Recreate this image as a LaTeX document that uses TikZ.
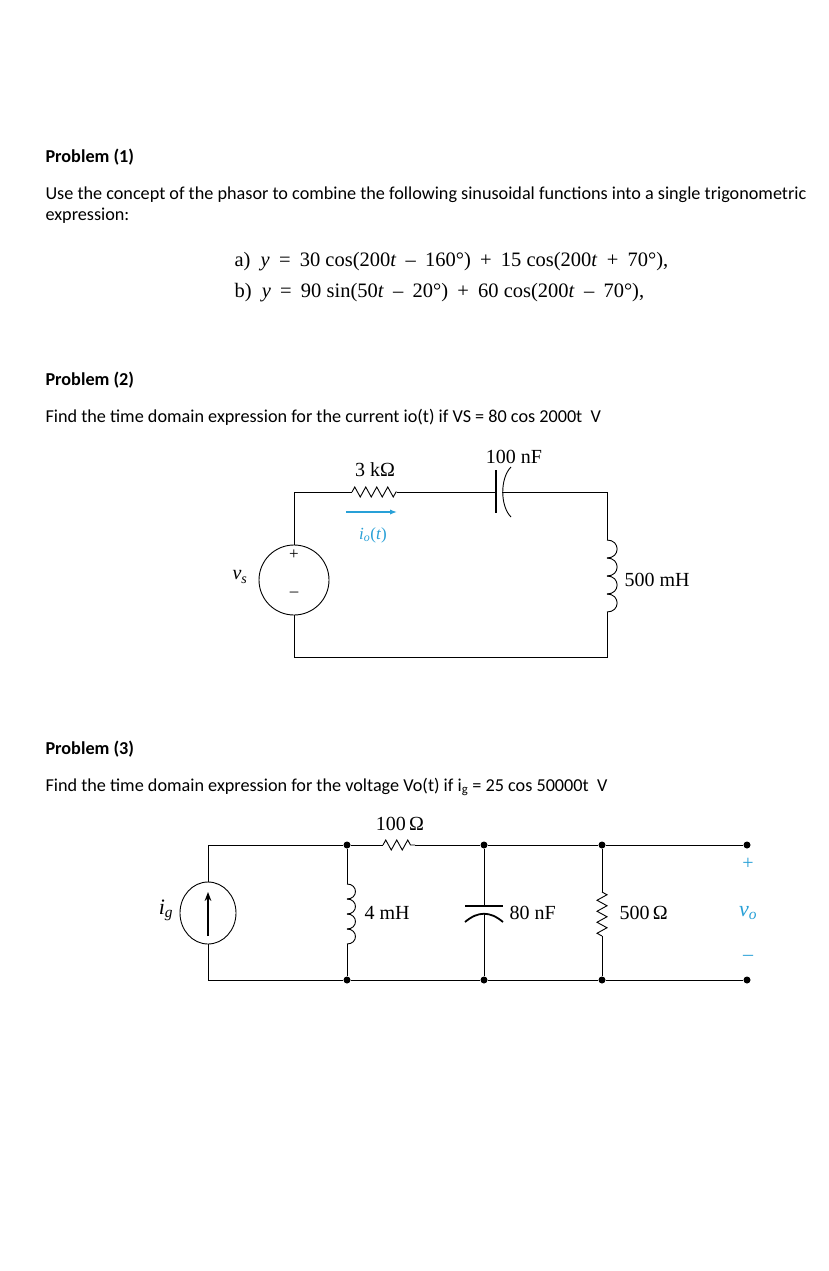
\documentclass[tikz,border=0pt]{standalone}
\usepackage{fontspec}
\setmainfont{Carlito}
\newfontfamily\tms{Liberation Serif}
\usetikzlibrary{decorations.pathmorphing,arrows.meta,shapes.geometric}
\definecolor{cblue}{RGB}{40,160,215}
\newcommand{\hump}[4]{% x, y-top, length per hump, count
 \foreach \k in {1,...,#4}{\draw[line width=0.9pt] (#1,{#2+(\k-1)*#3}) .. controls ({#1+0.75*#3},{#2+(\k-1)*#3}) and ({#1+0.75*#3},{#2+\k*#3}) .. (#1,{#2+\k*#3});}}
\newcommand{\op}[1]{\hspace{0.45em}#1\hspace{0.45em}}
\tikzset{
 txt/.style={anchor=west,font=\fontsize{18.2}{20}\selectfont},
 bold/.style={txt,font=\fontsize{18.2}{20}\selectfont\bfseries},
 lbl/.style={font=\tms\fontsize{20}{22}\selectfont},
 eq/.style={anchor=west,font=\tms\fontsize{20.5}{22}\selectfont},
 wire/.style={line width=0.9pt},
 dot/.style={circle,fill,inner sep=0pt,minimum size=7pt},
 res/.style={wire,decorate,decoration={zigzag,segment length=11pt,amplitude=5pt}}
}
\begin{document}
\begin{tikzpicture}[x=1pt,y=-1pt]
\useasboundingbox (0,0) rectangle (828,1271);
\fill[white] (0,0) rectangle (828,1271);
\node[bold] (p1) at (42,157) {Problem (1)};
\node[txt] (t1) at (42,195) {Use the concept of the phasor to combine the following sinusoidal functions into a single trigonometric};
\node[txt] (t1b) at (42,216) {expression:};
\node[eq] (ea) at (231,262) {a)\ \ \textit{y}\op{=}30 cos(200\textit{t}\op{–}160°)\op{+}15 cos(200\textit{t}\op{+}70°),};
\node[eq] (eb) at (231,293) {b)\ \ \textit{y}\op{=}90 sin(50\textit{t}\op{–}20°)\op{+}60 cos(200\textit{t}\op{–}70°),};
\node[bold] (p2) at (42,380) {Problem (2)};
\node[txt] (t2) at (42,417) {Find the time domain expression for the current io(t) if VS = 80 cos 2000t\ \ V};
% circuit 2
\coordinate (a1) at (294,492); \coordinate (a2) at (607,492);
\coordinate (a3) at (607,657); \coordinate (a4) at (294,657);
\node[circle,draw,line width=0.9pt,minimum size=70pt,inner sep=0pt] (vs) at (294,580) {};
\draw[wire] (vs.north) -- (a1) -- (352,492);
\draw[res] (352,492) -- (397,492);
\draw[wire] (397,492) -- (496,492);
\draw[line width=2.2pt] (496,470) -- (496,513);
\draw[wire] (511,467) .. controls (500,478) and (500,506) .. (511,517);
\draw[wire] (502,492) -- (a2) -- (607,540);
\hump{607}{540}{18}{4}
\draw[wire] (607,612) -- (a3) -- (a4) -- (vs.south);
\draw[cblue,line width=1.3pt,-{Latex[length=7pt]}] (346,512) -- (397,512);
\node[text=cblue,font=\tms\fontsize{17}{20}\selectfont] (io) at (373,535) {\textit{i}\textsubscript{\textit{o}}(\textit{t})};
\node[lbl] (r1) at (375,470) {3 kΩ};
\node[lbl] (c1) at (514,457) {100 nF};
\node[lbl,anchor=west] (l1) at (621,580) {500 mH};
\node[lbl] (vsl) at (240,577) {\textit{v}\textsubscript{\textit{s}}};
\node[font=\tms\fontsize{17}{20}\selectfont] (pl) at (294,555) {+};
\node[font=\tms\fontsize{17}{20}\selectfont] (mi) at (294,594) {–};
% problem 3
\node[bold] (p3) at (42,749) {Problem (3)};
\node[txt] (t3) at (42,787) {Find the time domain expression for the voltage Vo(t) if i\textsubscript{g} = 25 cos 50000t\ \ V};
\node[dot] (n1) at (347,845) {}; \node[dot] (n2) at (484,845) {};
\node[dot] (n3) at (602,845) {}; \node[dot] (n4) at (747,845) {};
\node[dot] (m1) at (347,980) {}; \node[dot] (m2) at (484,980) {};
\node[dot] (m3) at (602,980) {}; \node[dot] (m4) at (747,980) {};
\node[ellipse,draw,line width=0.9pt,minimum width=56pt,minimum height=62pt,inner sep=0pt] (ig) at (208,913) {};
\draw[wire] (ig.north) -- (208,845) -- (n1) -- (383,845);
\draw[res] (383,845) -- (415,845);
\draw[wire] (415,845) -- (n2) -- (n3) -- (n4);
\draw[wire] (ig.south) -- (208,980) -- (m1) -- (m2) -- (m3) -- (m4);
\draw[line width=1.2pt,-{Stealth[length=9pt]}] (208,936) -- (208,892);
\draw[wire] (n1) -- (347,884);
\hump{347}{884}{15}{4}
\draw[wire] (347,944) -- (m1);
\draw[wire] (n2) -- (484,906);
\draw[line width=1.8pt] (465,906) -- (503,906);
\draw[line width=1.8pt] (465,922) .. controls (478,911) and (490,911) .. (503,922);
\draw[wire] (484,914) -- (m2);
\draw[wire] (n3) -- (602,892);
\draw[res] (602,892) -- (602,936);
\draw[wire] (602,936) -- (m3);
\node[lbl] (r2) at (400,824) {100\,Ω};
\node[lbl,anchor=west] (l2) at (361,913) {4 mH};
\node[lbl,anchor=west] (c2) at (506,913) {80 nF};
\node[lbl,anchor=west] (r3) at (616,913) {500\,Ω};
\node[font=\tms\fontsize{22}{24}\selectfont] (igl) at (166,910) {\textit{i}\textsubscript{\textit{g}}};
\node[text=cblue,font=\tms\fontsize{22}{24}\selectfont] (vo) at (748,913) {\textit{v}\textsubscript{\textit{o}}};
\node[text=cblue,font=\tms\fontsize{20}{22}\selectfont] (vp) at (748,864) {+};
\node[text=cblue,font=\tms\fontsize{20}{22}\selectfont] (vm) at (748,958) {–};
\end{tikzpicture}
\end{document}
